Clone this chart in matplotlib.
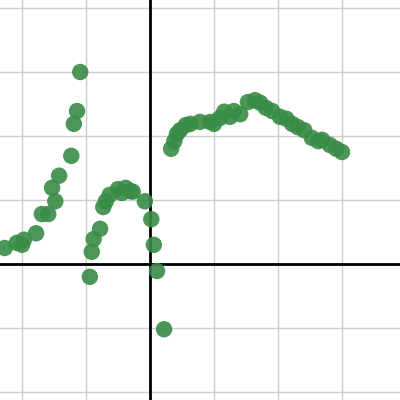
import numpy as np
import matplotlib.pyplot as plt

x = [-2.27, -2.08, -2.00, -1.97, -1.78, -1.69, -1.59, -1.48, -1.53, -1.42, -1.23, -1.19, -1.14, -1.09,
     -0.94, -0.91, -0.88, -0.78, -0.73, -0.69, -0.63, -0.50, -0.44, -0.38, -0.31, -0.27, -0.08, 0.02,
     0.06, 0.11, 0.22, 0.33, 0.38, 0.42, 0.47, 0.56, 0.63, 0.78, 0.94, 1.00, 1.09, 1.16, 1.25, 1.31,
     1.41, 1.53, 1.64, 1.72, 1.81, 1.91, 2.03, 2.13, 2.22, 2.31, 2.41, 2.53, 2.63, 2.69, 2.81, 2.91, 3.00]
y = [0.25, 0.33, 0.30, 0.38, 0.48, 0.78, 0.78, 0.98, 1.19, 1.38, 1.69, 2.19, 2.39, 3.00,
     -0.20, 0.19, 0.39, 0.55, 0.89, 0.98, 1.08, 1.17, 1.11, 1.19, 1.14, 1.13, 0.98, 0.70,
     0.30, -0.11, -1.02, 1.80, 1.92, 2.03, 2.09, 2.17, 2.19, 2.22, 2.22, 2.19, 2.28, 2.38, 2.30, 2.39,
     2.34, 2.53, 2.56, 2.52, 2.44, 2.39, 2.30, 2.27, 2.19, 2.14, 2.09, 1.97, 1.92, 1.94, 1.86, 1.80, 1.75]

fig = plt.figure(figsize=(4, 4), dpi=100)
ax = fig.add_axes([0, 0, 1, 1])
ax.set_xlim(-150 / 64, 250 / 64)
ax.set_ylim(-136 / 64, 264 / 64)
ax.set_xticks(np.arange(-2, 4))
ax.set_yticks(np.arange(-2, 5))
ax.grid(True, color='#cccccc', linewidth=1)
ax.tick_params(length=0, labelbottom=False, labelleft=False)
for s in ax.spines.values():
    s.set_visible(False)
ax.axhline(0, color='black', linewidth=2)
ax.axvline(0, color='black', linewidth=2)
ax.scatter(x, y, s=140, color='#388c46', alpha=0.9, edgecolors='none', zorder=3)
fig.savefig('out.png')
